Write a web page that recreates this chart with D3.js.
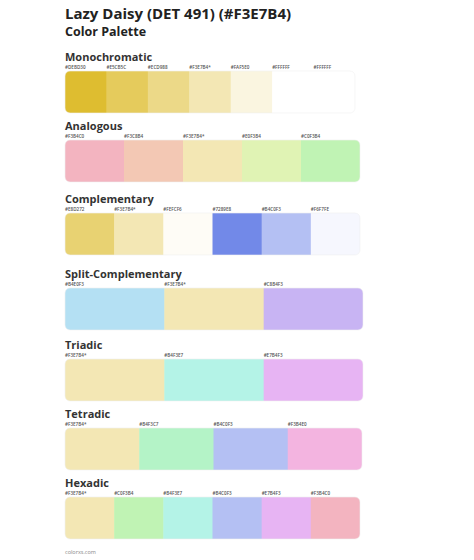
<!DOCTYPE html>
<html><head><meta charset="utf-8">
<script src="https://cdn.jsdelivr.net/npm/d3@7"></script>
<style>body{margin:0;background:#fff}text{font-family:"Open Sans",sans-serif}</style>
</head><body><svg id="c" width="474" height="560"></svg>
<script>
const sectionNames = ["Monochromatic","Analogous","Complementary","Split-Complementary","Triadic","Tetradic","Hexadic"];
const monochromatic = ["#DEBD30","#E5CB5C","#ECD988","#F3E7B4","#FAF5E0","#FFFFFF","#FFFFFF"];
const analogous = ["#F3B4C0","#F3C8B4","#F3E7B4","#E0F3B4","#C0F3B4"];
const complementary = ["#E8D272","#F3E7B4","#FEFCF6","#7289E8","#B4C0F3","#F6F7FE"];
const splitComplementary = ["#B4E0F3","#F3E7B4","#C8B4F3"];
const triadic = ["#F3E7B4","#B4F3E7","#E7B4F3"];
const tetradic = ["#F3E7B4","#B4F3C7","#B4C0F3","#F3B4E0"];
const hexadic = ["#F3E7B4","#C0F3B4","#B4F3E7","#B4C0F3","#E7B4F3","#F3B4C0"];
const rows = [monochromatic,analogous,complementary,splitComplementary,triadic,tetradic,hexadic];
const rowTops = [71,140,213,288,359,428,497];
const rowRight = [355,360,360,363,363,362,360];

const svg = d3.select("#c");
svg.append("text").attr("x",65).attr("y",19).attr("font-size",15).attr("font-weight",700).attr("fill","#222")
  .text("Lazy Daisy (DET 491) (#F3E7B4)");
svg.append("text").attr("x",65).attr("y",36).attr("font-size",12.5).attr("font-weight",700).attr("fill","#222")
  .text("Color Palette");

rows.forEach((colors, r) => {
  const top = rowTops[r], h = 42;
  const x = d3.scaleBand().domain(d3.range(colors.length)).range([65, rowRight[r]]);
  svg.append("text").attr("x",65).attr("y",top-10).attr("font-size",11).attr("font-weight",700).attr("fill","#333")
    .text(sectionNames[r]);
  const clipId = "clip"+r;
  svg.append("clipPath").attr("id",clipId).append("rect")
    .attr("x",65).attr("y",top).attr("width",rowRight[r]-65).attr("height",h).attr("rx",5);
  const g = svg.append("g").attr("clip-path",`url(#${clipId})`);
  g.selectAll("rect").data(colors).join("rect")
    .attr("x",(d,i)=>x(i)).attr("y",top).attr("width",x.bandwidth()+0.5).attr("height",h)
    .attr("fill",d=>d);
  // faint outline so white swatches stay visible
  svg.append("rect").attr("x",65).attr("y",top).attr("width",rowRight[r]-65).attr("height",h).attr("rx",5)
    .attr("fill","none").attr("stroke","#f0f0f0").attr("stroke-width",0.6);
  svg.selectAll(null).data(colors).join("text")
    .attr("x",(d,i)=>x(i)).attr("y",top-2).attr("font-size",4.6).attr("font-weight",600).attr("fill","#555")
    .text(d => d + (d === "#F3E7B4" ? "*" : ""));
});

svg.append("text").attr("x",65).attr("y",554).attr("font-size",5.5).attr("fill","#888").text("colorxs.com");
</script></body></html>
